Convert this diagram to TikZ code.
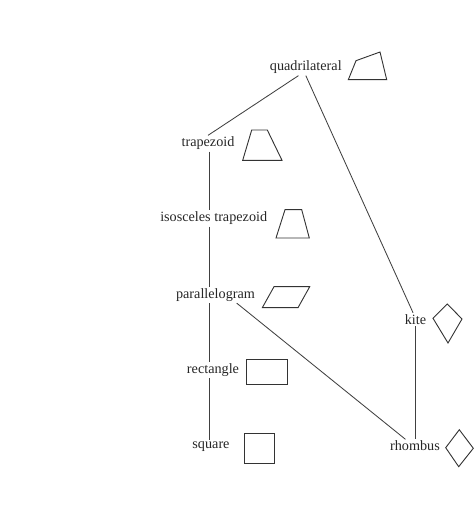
\documentclass[tikz,border=0pt]{standalone}
\usepackage{fontspec}
\setmainfont{Liberation Serif}
\usepackage{tikz}
\usetikzlibrary{positioning}

\begin{document}
\begin{tikzpicture}[
    x=0.025cm, y=-0.025cm,
    mylabel/.style={inner sep=1pt, font=\fontsize{10.1}{12}\selectfont, text=black!85},
    link/.style={line width=0.6pt, draw=black!75},
    figure/.style={line width=0.65pt, draw=black!80, line join=miter}
]
    \useasboundingbox (0,0) rectangle (474,517);

    % Names of the figures
    \node[mylabel] (quad) at (305.8,67.5) {quadrilateral};
    \node[mylabel] (trapezoid) at (208,143.5) {trapezoid};
    \node[mylabel] (isos) at (213.7,218.5) {isosceles trapezoid};
    \node[mylabel] (para) at (215.5,295) {parallelogram};
    \node[mylabel] (rect) at (213,370) {rectangle};
    \node[mylabel] (square) at (211,446.5) {square};
    \node[mylabel] (kite) at (415.5,319.5) {kite};
    \node[mylabel] (rhombus) at (415,446) {rhombus};

    % Left vertical runs on one line
    \coordinate (spine) at (209,0);

    % Hierarchy edges
    \draw[link] (quad.228) -- (trapezoid.north);
    \draw[link] (quad.south) -- (kite.110);
    \draw[link] (spine |- trapezoid.south) -- (spine |- isos.north);
    \draw[link] (spine |- isos.south) -- (spine |- para.north);
    \draw[link] (spine |- para.south) -- (spine |- rect.north);
    \draw[link] (spine |- rect.south) -- (spine |- square.north);
    \draw[link] (para.339) -- (rhombus.145);
    \draw[link] (kite.south) -- (kite.south |- rhombus.north);

    % Small figures beside the names
    \draw[figure] (348.3,79.7) -- (356,60.7) -- (380,52) -- (386.7,79.7) -- cycle;
    \draw[figure] (242.7,160.3) -- (251.7,130) -- (267.3,130) -- (282,160.3) -- cycle;
    \draw[figure] (276,238) -- (285,209.7) -- (301.7,209.7) -- (309.3,238) -- cycle;
    \draw[figure] (262.3,307.7) -- (274,286.7) -- (309.7,286.7) -- (298,307.7) -- cycle;
    \draw[figure] (246.7,359.7) rectangle (287.7,384.7);
    \draw[figure] (244.3,433.7) rectangle (274.3,463.3);
    \draw[figure] (433,318.3) -- (447.3,304) -- (462,319) -- (448,343) -- cycle;
    \draw[figure] (445.7,447.7) -- (459.3,429.7) -- (473.3,448.3) -- (458.7,466.7) -- cycle;
\end{tikzpicture}
\end{document}
